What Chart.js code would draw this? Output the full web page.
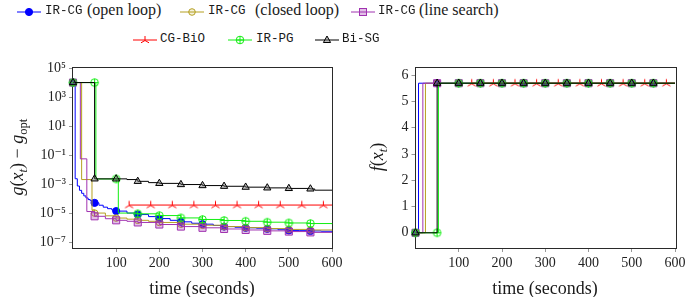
<!DOCTYPE html>
<html><head><meta charset="utf-8">
<script src="https://cdn.jsdelivr.net/npm/chart.js@4.4.0/dist/chart.umd.min.js"></script>
<style>
html,body{margin:0;padding:0;background:#fff;}
#wrap{position:relative;width:685px;height:297px;overflow:hidden;font-family:'Liberation Serif','DejaVu Serif',serif;color:#1a1a1a;}
.cv{position:absolute;}
.lg{position:absolute;white-space:nowrap;line-height:1;}
.mono{font-family:'Liberation Mono','DejaVu Sans Mono',monospace;font-size:12.5px;}
.ser{font-size:16px;font-family:'Liberation Serif','DejaVu Serif',serif;}
.ttl{position:absolute;white-space:nowrap;font-size:17px;line-height:1;transform:translate(-50%,-50%);}
.xt{font-size:18px;}
.rot{transform:translate(-50%,-50%) rotate(-90deg);}
sub{font-size:0.7em;vertical-align:-0.3em;line-height:0;}
</style></head><body><div id="wrap">
<div class="cv" style="left:0;top:60px;width:345px;height:237px"><canvas id="c1"></canvas></div>
<div class="cv" style="left:350px;top:60px;width:335px;height:237px"><canvas id="c2"></canvas></div>
<div class="ttl rot" style="left:17px;top:157px;font-size:18px"><i>g</i>(<i>x</i><sub><i>t</i></sub>) − <i>g</i><sub>opt</sub></div>
<div class="ttl rot" style="left:377px;top:157px;font-size:18px"><i>f</i>(<i>x</i><sub><i>t</i></sub>)</div>
<div class="ttl xt" style="left:202px;top:288px">time (seconds)</div>
<div class="ttl xt" style="left:545px;top:288px">time (seconds)</div>
</div>
<script>
// ---------- data ----------
const seriesMono = ['IR-CG', 'IR-CG', 'IR-CG', 'CG-BiO', 'IR-PG', 'Bi-SG'];
const seriesSerif = ['(open loop)', '(closed loop)', '(line search)', '', '', ''];
const seriesColors = ['#0000ff', '#b5a020', '#a032b0', '#ff0000', '#11ee11', '#000000'];

// left panel: g(x_t) - g_opt (time in seconds)
const openT   = [0,5,10,15,20,25,30,35,40,45,50,60,70,80,90,100,125,150,175,200,225,250,275,300,325,350,375,400,425,450,475,500,525,550,575,600];
const openG   = [1e4,2.5e-3,7.9e-4,4.0e-4,2.5e-4,1.66e-4,1.2e-4,9.3e-5,7.6e-5,6.3e-5,5.5e-5,3.8e-5,2.8e-5,2.2e-5,1.8e-5,1.5e-5,1.1e-5,8.7e-6,6.3e-6,4.6e-6,3.5e-6,2.75e-6,2.2e-6,1.9e-6,1.55e-6,1.3e-6,1.17e-6,1.07e-6,1.0e-6,9.1e-7,7.9e-7,7.1e-7,6.8e-7,6.5e-7,6.2e-7,5.9e-7];
const closedT = [0,20,44,50,75,100,125,150,175,200,250,300,350,400,450,500,550,600];
const closedG = [1e4,2.2e-3,1.8e-5,1.1e-5,7.1e-6,5.0e-6,4.2e-6,3.5e-6,3.0e-6,2.5e-6,1.9e-6,1.6e-6,1.3e-6,1.1e-6,9.5e-7,8.3e-7,7.6e-7,7.1e-7];
const lineT   = [0,17,32,50,75,100,125,150,200,250,300,350,400,450,500,550,600];
const lineG   = [1e4,5.8e-2,1.4e-5,6.6e-6,4.5e-6,3.5e-6,3.0e-6,2.5e-6,1.8e-6,1.3e-6,1.07e-6,8.9e-7,7.6e-7,6.6e-7,5.9e-7,5.2e-7,5.0e-7];
const cgbioT  = [130,180,230,280,330,380,430,480,530,580,600];
const cgbioG  = [3.9e-5,3.9e-5,3.9e-5,3.9e-5,3.9e-5,3.9e-5,3.9e-5,3.9e-5,3.9e-5,3.9e-5,3.9e-5];
const irpgT   = [0,50,53,100,105,150,200,250,300,350,400,450,500,550,600];
const irpgG   = [1e4,1e4,2.4e-3,2.4e-3,1.1e-5,9.8e-6,7.4e-6,5.1e-6,4.0e-6,3.4e-6,3.0e-6,2.6e-6,2.3e-6,2.1e-6,1.9e-6];
const bisgT   = [0,50,100,125,150,175,200,250,300,350,400,450,500,550,560,600];
const bisgG   = [1e4,2.45e-3,2.45e-3,2.2e-3,1.66e-3,1.35e-3,1.2e-3,1.0e-3,8.5e-4,7.6e-4,6.6e-4,5.9e-4,5.4e-4,5.0e-4,4.1e-4,4.1e-4];

// right panel: f(x_t)
const fOpenT   = [0,7,50,100,150,200,250,300,350,400,450,500,550,600];
const fOpen    = [0,5.7,5.7,5.7,5.7,5.7,5.7,5.7,5.7,5.7,5.7,5.7,5.7,5.7];
const fClosedT = [0,23,50,100,150,200,250,300,350,400,450,500,550,600];
const fClosed  = [0,5.7,5.7,5.7,5.7,5.7,5.7,5.7,5.7,5.7,5.7,5.7,5.7,5.7];
const fLineT   = [0,17,50,100,150,200,250,300,350,400,450,500,550,600];
const fLine    = [0,5.7,5.7,5.7,5.7,5.7,5.7,5.7,5.7,5.7,5.7,5.7,5.7,5.7];
const fCgbioT  = [130,180,230,280,330,380,430,480,530,580,600];
const fCgbio   = [5.7,5.7,5.7,5.7,5.7,5.7,5.7,5.7,5.7,5.7,5.7];
const fIrpgT   = [0,50,53,100,150,200,250,300,350,400,450,500,550,600];
const fIrpg    = [0,0,5.7,5.7,5.7,5.7,5.7,5.7,5.7,5.7,5.7,5.7,5.7,5.7];
const fBisgT   = [0,50,100,150,200,250,300,350,400,450,500,550,600];
const fBisg    = [0,5.7,5.7,5.7,5.7,5.7,5.7,5.7,5.7,5.7,5.7,5.7,5.7];

const timeTicks = [100,200,300,400,500,600];
const gTickValues = [1e-7,1e-5,1e-3,1e-1,1e1,1e3,1e5];
const gTickLabels = ['10\u207B\u2077','10\u207B\u2075','10\u207B\u00B3','10\u207B\u00B9','10\u00B9','10\u00B3','10\u2075'];
const fTicks = [0,1,2,3,4,5,6];

// ---------- markers ----------
function mk(draw){const c=document.createElement('canvas');c.width=11;c.height=11;const x=c.getContext('2d');x.lineWidth=1;draw(x);return c;}
const starImg = mk(x=>{x.strokeStyle='#ff0000';x.beginPath();const cx=5.5,cy=6,r=4.6;
  x.moveTo(cx,cy);x.lineTo(cx,cy-r);x.moveTo(cx,cy);x.lineTo(cx-r*0.87,cy+r*0.5);x.moveTo(cx,cy);x.lineTo(cx+r*0.87,cy+r*0.5);x.stroke();});
const oplusImg = mk(x=>{x.strokeStyle='#11ee11';x.beginPath();x.arc(5.5,5.5,3.8,0,Math.PI*2);x.stroke();
  x.beginPath();x.moveTo(5.5,1.7);x.lineTo(5.5,9.3);x.moveTo(1.7,5.5);x.lineTo(9.3,5.5);x.stroke();});

const styles = [
  {pointStyle:'circle', r:3.6, bg:'#0000ff'},
  {pointStyle:'circle', r:3.3, bg:'rgba(181,160,32,0.15)'},
  {pointStyle:'rect', r:5, bg:'rgba(160,50,176,0.3)'},
  {pointStyle:starImg, r:4, bg:'#ff0000'},
  {pointStyle:oplusImg, r:4, bg:'rgba(0,0,0,0)'},
  {pointStyle:'triangle', r:4.2, bg:'rgba(110,110,110,0.45)'}
];
const markerTest = [
  t=>t%50===0 && t<600, t=>t%50===0 && t<600, t=>t%50===0 && t<600,
  t=>(t-130)%50===0 && t<=580, t=>t%50===0 && t<600, t=>t%50===0 && t<600
];

function pts(T,V){return T.map((t,i)=>({x:t,y:V[i]}));}
function makeSets(list){
  return list.map((pair,i)=>({
    label: seriesMono[i]+' '+seriesSerif[i],
    data: pts(pair[0],pair[1]),
    borderColor: seriesColors[i], borderWidth: 1,
    backgroundColor: styles[i].bg,
    pointStyle: styles[i].pointStyle,
    pointBorderColor: seriesColors[i], pointBorderWidth: 1,
    pointBackgroundColor: styles[i].bg,
    pointRadius: ctx => (ctx.raw && markerTest[i](ctx.raw.x)) ? styles[i].r : 0,
    stepped: 'before', fill: false, clip: false, tension: 0,
    order: 6 - i
  }));
}

const framePlugin = {id:'frame', beforeDatasetsDraw(chart){const a=chart.chartArea,c=chart.ctx;c.save();c.strokeStyle='#2a2a2a';c.lineWidth=1;
  c.strokeRect(Math.round(a.left)-0.5,Math.round(a.top)-0.5,Math.round(a.right-a.left)+1,Math.round(a.bottom-a.top)+1);c.restore();}};

const tickFont = {family:"'Liberation Serif','DejaVu Serif',serif", size:14};
function xScale(){return {type:'linear',min:0,max:600,
  afterBuildTicks:s=>{s.ticks=timeTicks.map(v=>({value:v}));},
  afterFit:s=>{s.height=49;s.paddingLeft=0;s.paddingRight=0;},
  grid:{drawOnChartArea:false,drawTicks:true,tickLength:4,color:'#999'},
  border:{display:false},
  ticks:{font:tickFont,color:'#222',padding:3,maxRotation:0,autoSkip:false}};}

Chart.defaults.animation=false;
new Chart(document.getElementById('c1'),{type:'line',
  data:{datasets:makeSets([[openT,openG],[closedT,closedG],[lineT,lineG],[cgbioT,cgbioG],[irpgT,irpgG],[bisgT,bisgG]])},
  options:{responsive:true,maintainAspectRatio:false,events:[],
    layout:{padding:{left:0,right:13,top:8,bottom:0}},
    plugins:{legend:{display:false},tooltip:{enabled:false}},
    scales:{x:xScale(),
      y:{type:'logarithmic',min:4.4e-8,max:1e5,
        afterBuildTicks:s=>{s.ticks=gTickValues.map(v=>({value:v}));},
        afterFit:s=>{s.width=73;s.paddingTop=0;s.paddingBottom=0;},
        grid:{drawOnChartArea:false,drawTicks:true,tickLength:4,color:'#999'},
        border:{display:false},
        ticks:{font:tickFont,color:'#222',padding:3,autoSkip:false,
          callback:v=>{const k=gTickValues.findIndex(g=>Math.abs(Math.log10(g)-Math.log10(v))<1e-6);return k>=0?gTickLabels[k]:'';}}}}},
  plugins:[framePlugin]});

new Chart(document.getElementById('c2'),{type:'line',
  data:{datasets:makeSets([[fOpenT,fOpen],[fClosedT,fClosed],[fLineT,fLine],[fCgbioT,fCgbio],[fIrpgT,fIrpg],[fBisgT,fBisg]])},
  options:{responsive:true,maintainAspectRatio:false,events:[],
    layout:{padding:{left:0,right:10,top:8,bottom:0}},
    plugins:{legend:{display:false},tooltip:{enabled:false}},
    scales:{x:xScale(),
      y:{type:'linear',min:-0.58,max:6.28,
        afterBuildTicks:s=>{s.ticks=fTicks.map(v=>({value:v}));},
        afterFit:s=>{s.width=65.5;s.paddingTop=0;s.paddingBottom=0;},
        grid:{drawOnChartArea:false,drawTicks:true,tickLength:4,color:'#999'},
        border:{display:false},
        ticks:{font:tickFont,color:'#222',padding:3,autoSkip:false}}}},
  plugins:[framePlugin]});

// ---------- legend (HTML) ----------
const legendPos = [
  {sx:17,y:12,mono:45,ser:87},{sx:180,y:12,mono:208,ser:255},{sx:351,y:12,mono:378,ser:419},
  {sx:133,y:40,mono:160},{sx:228,y:40,mono:256},{sx:315,y:40,mono:342}
];
const wrap=document.getElementById('wrap');
const svgMarks=[
  c=>`<circle cx="12" cy="6" r="3.6" fill="${c}" stroke="${c}"/>`,
  c=>`<circle cx="12" cy="6" r="3.3" fill="rgba(181,160,32,0.15)" stroke="${c}"/>`,
  c=>`<rect x="8.5" y="2.5" width="7" height="7" fill="rgba(160,50,176,0.3)" stroke="${c}"/>`,
  c=>`<path d="M12 6.5 L12 2 M12 6.5 L8 8.8 M12 6.5 L16 8.8" stroke="${c}" fill="none"/>`,
  c=>`<circle cx="12" cy="6" r="3.8" fill="none" stroke="${c}"/><path d="M12 2.2 V9.8 M8.2 6 H15.8" stroke="${c}"/>`,
  c=>`<path d="M12 2 L15.6 8.5 L8.4 8.5 Z" fill="rgba(110,110,110,0.45)" stroke="${c}"/>`
];
legendPos.forEach((p,i)=>{
  const c=seriesColors[i];
  const s=document.createElement('div');s.className='lg';s.style.left=p.sx+'px';s.style.top=(p.y-6)+'px';
  s.innerHTML=`<svg width="24" height="12" style="display:block;overflow:visible"><line x1="0" y1="6" x2="24" y2="6" stroke="${c}" stroke-width="1"/>${svgMarks[i](c)}</svg>`;
  wrap.appendChild(s);
  const m=document.createElement('div');m.className='lg mono';m.textContent=seriesMono[i];
  m.style.left=p.mono+'px';m.style.top=(p.y-7)+'px';wrap.appendChild(m);
  if(seriesSerif[i]){const t=document.createElement('div');t.className='lg ser';t.textContent=seriesSerif[i];
    t.style.left=p.ser+'px';t.style.top=(p.y-10)+'px';wrap.appendChild(t);}
});
</script></body></html>
